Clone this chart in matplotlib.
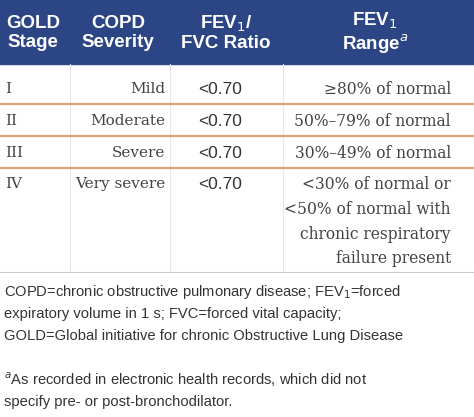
import matplotlib
matplotlib.use("Agg")
import matplotlib.pyplot as plt

# Table content
header_cols = ["GOLD\nStage", "COPD\nSeverity", "FEV$_1$/\nFVC Ratio", "FEV$_1$\nRange$^a$"]
stages = ["I", "II", "III", "IV"]
severity = ["Mild", "Moderate", "Severe", "Very severe"]
ratio = ["<0.70", "<0.70", "<0.70", "<0.70"]
fev_range = ["≥80% of normal", "50%–79% of normal", "30%–49% of normal",
             "<30% of normal or\n<50% of normal with\nchronic respiratory\nfailure present"]
footnotes = [
    "COPD=chronic obstructive pulmonary disease; FEV$_1$=forced",
    "expiratory volume in 1 s; FVC=forced vital capacity;",
    "GOLD=Global initiative for chronic Obstructive Lung Disease",
    "",
    "$^a$As recorded in electronic health records, which did not",
    "specify pre- or post-bronchodilator.",
]

NAVY = "#2b4585"
ORANGE = "#e0a080"
GRID = "#e6e6e6"

fig = plt.figure(figsize=(4.74, 4.17), dpi=100)
ax = fig.add_axes([0, 0, 1, 1])
ax.set_xlim(0, 474)
ax.set_ylim(417, 0)
ax.axis("off")

# header band
ax.add_patch(plt.Rectangle((0, 0), 474, 64, color=NAVY, zorder=0))
hx = [33, 118, 226, 375]
for x, t in zip(hx, header_cols):
    ax.text(x, 33, t, ha="center", va="center", color="white", fontsize=13.5,
            fontweight="bold", family="Liberation Sans", linespacing=1.1)

# vertical faint separators in body
for x in [70, 170, 283]:
    ax.plot([x, x], [64, 272], color=GRID, lw=0.8, zorder=1)

# orange row separators
for y in [104, 136, 168]:
    ax.plot([0, 474], [y, y], color=ORANGE, lw=1.6)
ax.plot([0, 474], [272, 272], color="#cccccc", lw=0.8)

row_y = [89, 121, 153, 184]
serif = "DejaVu Serif"
for y, s, sev, r, fr in zip(row_y, stages, severity, ratio, fev_range):
    ax.text(5, y, s, ha="left", va="center", fontsize=11, family=serif, color="#444444")
    ax.text(165, y, sev, ha="right", va="center", fontsize=11, family=serif, color="#444444")
    ax.text(220, y, r, ha="center", va="center", fontsize=12.5, family="Liberation Sans", color="#333333")
    ax.text(451, y - 8, fr, ha="right", va="top", fontsize=11.2, family=serif,
            color="#444444", linespacing=1.6)

fy = 292
for line in footnotes:
    if line:
        ax.text(4, fy, line, ha="left", va="center", fontsize=10.6,
                family="Liberation Sans", color="#333333")
    fy += 22

fig.savefig("out.png", dpi=100)
